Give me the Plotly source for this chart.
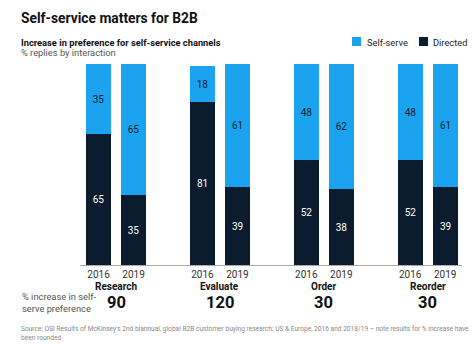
import plotly.graph_objects as go

groups = ["Research", "Evaluate", "Order", "Reorder"]
years = ["2016", "2019"]
self_serve = [35, 65, 18, 61, 48, 62, 48, 61]
directed = [65, 35, 81, 39, 52, 38, 52, 39]
increase = [90, 120, 30, 30]

LIGHT = "#1ba3ef"
DARK = "#0b1c2e"
FONT = "Roboto, Arial, sans-serif"

W, H = 474, 344
ML, MR, MT, MB = 80, 12, 64, 79
PW, PH = W - ML - MR, H - MT - MB

def px(x):
    return (x - ML) / PW

def py(y):
    return (H - MB - y) / PH

GAP = 2.97
pos = [g * GAP + i for g in range(len(groups)) for i in range(len(years))]
ticktext = [y for _ in groups for y in years]
centers = [g * GAP + 0.5 for g in range(len(groups))]

fig = go.Figure()
fig.add_trace(go.Bar(
    x=pos, y=directed, name="Directed", marker=dict(color=DARK, line=dict(width=0)),
    width=0.72, text=[str(v) for v in directed], textposition="inside",
    insidetextanchor="middle", textangle=0,
    textfont=dict(color="white", size=10, family=FONT),
))
fig.add_trace(go.Bar(
    x=pos, y=self_serve, name="Self-serve", marker=dict(color=LIGHT, line=dict(width=0)),
    width=0.72, text=[str(v) for v in self_serve], textposition="inside",
    insidetextanchor="middle", textangle=0,
    textfont=dict(color=DARK, size=10, family=FONT),
))

ann = []
# title and subtitles
ann.append(dict(text="<b>Self-service matters for B2B</b>", x=px(19), y=py(18),
                xanchor="left", yanchor="middle", font=dict(size=13.8, color="#111", family=FONT)))
ann.append(dict(text="<b>Increase in preference for self-service channels</b>", x=px(19), y=py(42),
                xanchor="left", yanchor="middle", font=dict(size=9.3, color="#111", family=FONT)))
ann.append(dict(text="% replies by interaction", x=px(19), y=py(53),
                xanchor="left", yanchor="middle", font=dict(size=9.3, color="#555", family=FONT)))
# legend
ann.append(dict(text="Self-serve", x=px(365), y=py(42), xanchor="left", yanchor="middle",
                font=dict(size=9.3, color="#222", family=FONT)))
ann.append(dict(text="Directed", x=px(431), y=py(42), xanchor="left", yanchor="middle",
                font=dict(size=9.3, color="#222", family=FONT)))
# group labels and increases
for c, g, v in zip(centers, groups, increase):
    ann.append(dict(text=f"<b>{g}</b>", x=c, xref="x", y=py(286.5), xanchor="center", yanchor="middle",
                    font=dict(size=10, color="#111", family=FONT)))
    ann.append(dict(text=f"<b>{v}</b>", x=c, xref="x", y=py(302), xanchor="center", yanchor="middle",
                    font=dict(size=16.5, color="#111", family=FONT)))
ann.append(dict(text="% increase in self-<br>serve preference", x=px(20), y=py(302),
                xanchor="left", yanchor="middle", align="left",
                font=dict(size=9.3, color="#555", family=FONT)))
ann.append(dict(text="Source: OSI Results of McKinsey's 2nd biannual, global B2B customer buying research: US &amp; Europe, 2016 and 2018/19 – note results for % increase have<br>been rounded",
                x=px(19), y=py(333), xanchor="left", yanchor="middle", align="left",
                font=dict(size=6.6, color="#888", family=FONT)))
for a in ann:
    a.setdefault("xref", "paper")
    a["yref"] = "paper"
    a["showarrow"] = False

shapes = [
    dict(type="rect", xref="paper", yref="paper", x0=px(352), x1=px(361), y0=py(37), y1=py(46),
         fillcolor=LIGHT, line=dict(width=0)),
    dict(type="rect", xref="paper", yref="paper", x0=px(419), x1=px(428), y0=py(37), y1=py(46),
         fillcolor=DARK, line=dict(width=0)),
]

fig.update_layout(
    width=W, height=H, margin=dict(l=ML, r=MR, t=MT, b=MB),
    paper_bgcolor="white", plot_bgcolor="white",
    barmode="stack", showlegend=False, bargap=0,
    annotations=ann, shapes=shapes,
    uniformtext=dict(minsize=8, mode="show"),
    font=dict(family=FONT),
)
fig.update_xaxes(range=[-0.53, 10.39], tickvals=pos, ticktext=ticktext, showgrid=False,
                 zeroline=False, showline=True, linecolor="#aaa", linewidth=1, ticks="",
                 tickfont=dict(size=10, color="#333", family=FONT), fixedrange=True)
fig.update_yaxes(range=[0, 100], visible=False, showgrid=False, fixedrange=True)

fig.write_html("out.html", config={"displayModeBar": False})
